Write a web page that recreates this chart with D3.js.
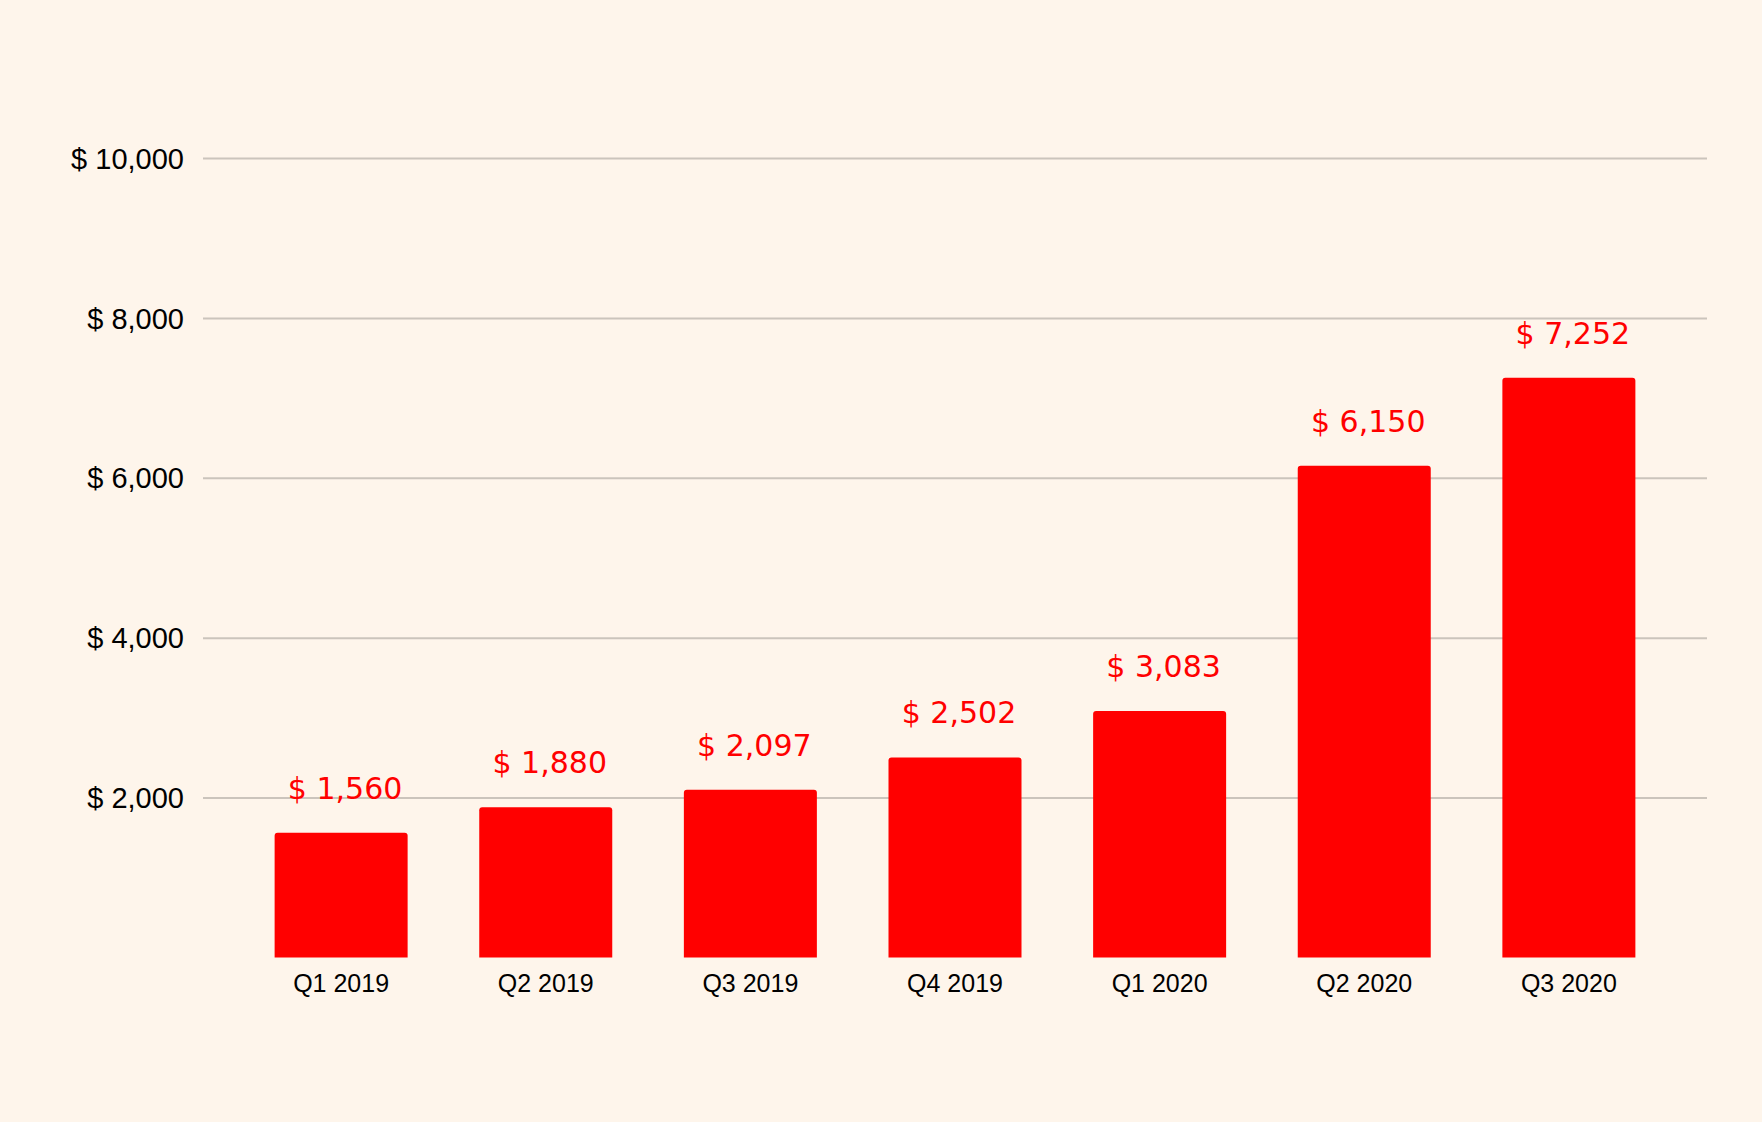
<!DOCTYPE html>
<html>
<head>
<meta charset="utf-8" />
<style>
  html, body { margin: 0; padding: 0; background: #fef5eb; }
  svg { display: block; }
</style>
</head>
<body>
<svg id="chart"></svg>
<script src="https://d3js.org/d3.v7.min.js"></script>
<script>
  const quarters = ["Q1 2019", "Q2 2019", "Q3 2019", "Q4 2019", "Q1 2020", "Q2 2020", "Q3 2020"];
  const revenue = [1560, 1880, 2097, 2502, 3083, 6150, 7252];
  const yTicks = [2000, 4000, 6000, 8000, 10000];

  const width = 1762;
  const height = 1122;
  const margin = { top: 158, right: 55, bottom: 164.5, left: 203 };

  const svg = d3.select("#chart")
    .attr("width", width)
    .attr("height", height)
    .style("background", "#fef5eb");

  const x = d3.scaleBand()
    .domain(quarters)
    .range([margin.left, width - margin.right])
    .paddingInner(0.35)
    .paddingOuter(0.35);

  const y = d3.scaleLinear()
    .domain([0, 10000])
    .range([height - margin.bottom, margin.top]);

  // gridlines + y labels
  const yAxis = d3.axisLeft(y)
    .tickValues(yTicks)
    .tickSize(-(width - margin.left - margin.right))
    .tickPadding(19)
    .tickFormat(d => "$ " + d3.format(",")(d));

  svg.append("g")
    .attr("transform", `translate(${margin.left},0)`)
    .call(yAxis)
    .call(g => g.select(".domain").remove())
    .call(g => g.selectAll(".tick line").attr("stroke", "#cbc4bc").attr("stroke-width", 2))
    .call(g => g.selectAll(".tick text")
      .attr("fill", "#000")
      .attr("dy", "0.35em")
      .style("font", "29px 'Liberation Sans', Arial, sans-serif"));

  // bars with slightly rounded tops
  const r = 3;
  const barPath = (d, i) => {
    const x0 = x(quarters[i]), w = x.bandwidth();
    const y0 = y(d), y1 = y(0);
    return `M${x0},${y1}V${y0 + r}Q${x0},${y0} ${x0 + r},${y0}H${x0 + w - r}Q${x0 + w},${y0} ${x0 + w},${y0 + r}V${y1}Z`;
  };

  svg.append("g")
    .selectAll("path")
    .data(revenue)
    .join("path")
    .attr("fill", "#ff0000")
    .attr("d", barPath);

  // value labels
  svg.append("g")
    .attr("text-anchor", "middle")
    .style("font", "30px 'DejaVu Sans', Verdana, sans-serif")
    .attr("fill", "#ff0000")
    .selectAll("text")
    .data(revenue)
    .join("text")
    .attr("x", (d, i) => x(quarters[i]) + x.bandwidth() / 2 + 4)
    .attr("y", d => y(d) - 34)
    .text(d => "$ " + d3.format(",")(d));

  // x labels
  const xAxis = d3.axisBottom(x).tickSize(0).tickPadding(0);
  svg.append("g")
    .attr("transform", `translate(0,${y(0)})`)
    .call(xAxis)
    .call(g => g.select(".domain").remove())
    .call(g => g.selectAll(".tick text")
      .attr("fill", "#000")
      .attr("y", 34.5)
      .attr("dy", 0)
      .style("font", "25px 'Liberation Sans', Arial, sans-serif"));
</script>
</body>
</html>
